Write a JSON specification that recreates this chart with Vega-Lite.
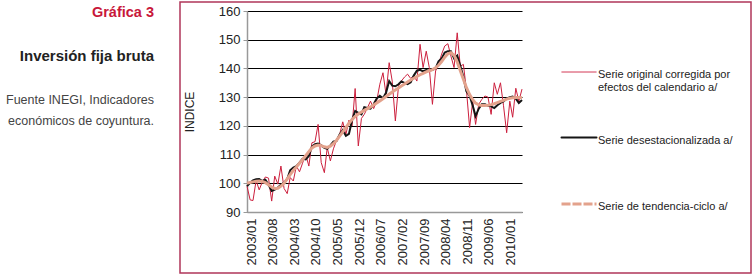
{
  "$schema": "https://vega.github.io/schema/vega-lite/v6.json",
  "background": "white",
  "padding": {"left": 0, "top": 1, "right": 0, "bottom": 0},
  "spacing": 25,
  "config": {"font": "Liberation Sans", "view": {"stroke": null}},
  "datasets": {
    "texto": [
      {"fila": 1, "texto": "Gráfica 3"},
      {"fila": 3, "texto": "Inversión fija bruta"},
      {"fila": 5, "texto": "Fuente INEGI, Indicadores"},
      {"fila": 6, "texto": "económicos de coyuntura."}
    ],
    "serie": [
      {"m":"2003-01","o":99,"d":99,"t":100},
      {"m":"2003-02","o":94.2,"d":100.2,"t":100.3},
      {"m":"2003-03","o":94,"d":101,"t":100.5},
      {"m":"2003-04","o":101,"d":101.4,"t":100.7},
      {"m":"2003-05","o":97.7,"d":101.5,"t":100.8},
      {"m":"2003-06","o":100.5,"d":100.8,"t":100.6},
      {"m":"2003-07","o":102.2,"d":101.2,"t":100.2},
      {"m":"2003-08","o":101.8,"d":99.5,"t":99.5},
      {"m":"2003-09","o":93.8,"d":97.3,"t":98.7},
      {"m":"2003-10","o":102.5,"d":97.8,"t":98.2},
      {"m":"2003-11","o":99.7,"d":98.5,"t":98.3},
      {"m":"2003-12","o":106,"d":99.5,"t":99},
      {"m":"2004-01","o":98.2,"d":100.2,"t":100},
      {"m":"2004-02","o":96.4,"d":101.5,"t":101.5},
      {"m":"2004-03","o":102,"d":104.5,"t":103},
      {"m":"2004-04","o":100.8,"d":105.5,"t":104.5},
      {"m":"2004-05","o":106,"d":106,"t":105.7},
      {"m":"2004-06","o":104,"d":107.2,"t":107},
      {"m":"2004-07","o":107,"d":108.5,"t":108.2},
      {"m":"2004-08","o":110.1,"d":108.3,"t":109.6},
      {"m":"2004-09","o":106,"d":109.5,"t":111},
      {"m":"2004-10","o":114.1,"d":112.8,"t":112.3},
      {"m":"2004-11","o":114.5,"d":113.6,"t":113},
      {"m":"2004-12","o":120.5,"d":113.8,"t":113.3},
      {"m":"2005-01","o":107.2,"d":113.2,"t":113.1},
      {"m":"2005-02","o":103.7,"d":112.3,"t":112.7},
      {"m":"2005-03","o":112.4,"d":112,"t":112.5},
      {"m":"2005-04","o":107.8,"d":113.2,"t":112.9},
      {"m":"2005-05","o":112,"d":114.5,"t":113.8},
      {"m":"2005-06","o":115,"d":114.8,"t":115},
      {"m":"2005-07","o":117,"d":117,"t":116.4},
      {"m":"2005-08","o":121.4,"d":118.5,"t":117.9},
      {"m":"2005-09","o":117,"d":116.5,"t":119.4},
      {"m":"2005-10","o":122,"d":117.2,"t":120.9},
      {"m":"2005-11","o":120,"d":122,"t":122.2},
      {"m":"2005-12","o":133,"d":125.2,"t":123.3},
      {"m":"2006-01","o":113,"d":124.5,"t":124.1},
      {"m":"2006-02","o":122.6,"d":124,"t":124.8},
      {"m":"2006-03","o":124,"d":126.5,"t":125.4},
      {"m":"2006-04","o":126.3,"d":126.2,"t":126},
      {"m":"2006-05","o":128.6,"d":126,"t":126.6},
      {"m":"2006-06","o":126,"d":127.5,"t":127.3},
      {"m":"2006-07","o":128.6,"d":129.5,"t":128},
      {"m":"2006-08","o":134.5,"d":130.5,"t":128.7},
      {"m":"2006-09","o":138.5,"d":129.6,"t":129.4},
      {"m":"2006-10","o":131,"d":131.5,"t":130.2},
      {"m":"2006-11","o":142,"d":135.6,"t":131},
      {"m":"2006-12","o":135.6,"d":134,"t":131.8},
      {"m":"2007-01","o":121.7,"d":133.8,"t":132.5},
      {"m":"2007-02","o":133.9,"d":134.5,"t":133.2},
      {"m":"2007-03","o":135.6,"d":135.5,"t":133.9},
      {"m":"2007-04","o":137,"d":135,"t":134.6},
      {"m":"2007-05","o":138,"d":134.5,"t":135.3},
      {"m":"2007-06","o":136.5,"d":135.2,"t":136},
      {"m":"2007-07","o":137.5,"d":137.5,"t":136.6},
      {"m":"2007-08","o":135.6,"d":139.2,"t":137.2},
      {"m":"2007-09","o":148.4,"d":139.5,"t":137.8},
      {"m":"2007-10","o":140.3,"d":139,"t":138.3},
      {"m":"2007-11","o":146,"d":139.4,"t":138.8},
      {"m":"2007-12","o":140.3,"d":139.2,"t":139.2},
      {"m":"2008-01","o":127.5,"d":139.5,"t":139.6},
      {"m":"2008-02","o":139.1,"d":140,"t":140.2},
      {"m":"2008-03","o":141.4,"d":142.5,"t":141.1},
      {"m":"2008-04","o":145,"d":143.5,"t":142.4},
      {"m":"2008-05","o":147.8,"d":145.5,"t":143.9},
      {"m":"2008-06","o":148.6,"d":146,"t":145.1},
      {"m":"2008-07","o":144.3,"d":146,"t":145.5},
      {"m":"2008-08","o":140.3,"d":143.5,"t":144.6},
      {"m":"2008-09","o":152.4,"d":144.5,"t":142.3},
      {"m":"2008-10","o":140.8,"d":141,"t":139.3},
      {"m":"2008-11","o":141.4,"d":137,"t":136.2},
      {"m":"2008-12","o":132.5,"d":132,"t":133.3},
      {"m":"2009-01","o":119.4,"d":130.5,"t":130.9},
      {"m":"2009-02","o":128.6,"d":127,"t":129.1},
      {"m":"2009-03","o":120.5,"d":123.4,"t":127.9},
      {"m":"2009-04","o":127.5,"d":126,"t":127.3},
      {"m":"2009-05","o":129.2,"d":127.5,"t":127.1},
      {"m":"2009-06","o":130.4,"d":127.5,"t":127.1},
      {"m":"2009-07","o":130,"d":127,"t":127.2},
      {"m":"2009-08","o":124,"d":126.8,"t":127.4},
      {"m":"2009-09","o":135,"d":126.2,"t":127.7},
      {"m":"2009-10","o":131,"d":127.2,"t":128.1},
      {"m":"2009-11","o":135,"d":128,"t":128.5},
      {"m":"2009-12","o":127,"d":128.5,"t":128.9},
      {"m":"2010-01","o":117.6,"d":129.5,"t":129.3},
      {"m":"2010-02","o":128.6,"d":130,"t":129.6},
      {"m":"2010-03","o":123,"d":130.2,"t":129.8},
      {"m":"2010-04","o":133.1,"d":129.5,"t":129.9},
      {"m":"2010-05","o":128.6,"d":128,"t":129.9},
      {"m":"2010-06","o":132.8,"d":129,"t":129.8}
    ]
  },
  "hconcat": [
    {
      "width": 154,
      "height": 130,
      "data": {"name": "texto"},
      "encoding": {
        "x": {"datum": 1, "type": "quantitative", "scale": {"domain": [0, 1]}, "axis": null},
        "y": {"field": "fila", "type": "ordinal", "scale": {"type": "point", "domain": [1, 2, 3, 4, 5, 6], "padding": 0.5}, "axis": null},
        "text": {"field": "texto"}
      },
      "layer": [
        {"transform": [{"filter": "datum.fila == 1"}], "mark": {"type": "text", "align": "right", "baseline": "middle", "fontSize": 14.5, "fontWeight": "bold", "color": "#c8173a"}},
        {"transform": [{"filter": "datum.fila == 3"}], "mark": {"type": "text", "align": "right", "baseline": "middle", "fontSize": 15, "fontWeight": "bold", "color": "#222222"}},
        {"transform": [{"filter": "datum.fila >= 5"}], "mark": {"type": "text", "align": "right", "baseline": "middle", "fontSize": 12.5, "color": "#444444"}}
      ]
    },
    {
      "width": 571,
      "height": 271,
      "view": {"stroke": "#b0365a", "strokeWidth": 1.5, "fill": "white"},
      "data": {"name": "serie"},
      "transform": [{"fold": ["o", "d", "t"], "as": ["serie", "valor"]}],
      "encoding": {
        "x": {
          "field": "m", "type": "temporal",
          "scale": {"type": "utc", "domain": [{"year": 2003, "month": 1, "date": 1, "utc": true}, {"year": 2010, "month": 6, "date": 1, "utc": true}], "range": [67, 342]},
          "axis": {
            "title": null, "grid": false, "ticks": false, "offset": -61,
            "values": [
              {"year": 2003, "month": 1, "date": 1, "utc": true},
              {"year": 2003, "month": 8, "date": 1, "utc": true},
              {"year": 2004, "month": 3, "date": 1, "utc": true},
              {"year": 2004, "month": 10, "date": 1, "utc": true},
              {"year": 2005, "month": 5, "date": 1, "utc": true},
              {"year": 2005, "month": 12, "date": 1, "utc": true},
              {"year": 2006, "month": 7, "date": 1, "utc": true},
              {"year": 2007, "month": 2, "date": 1, "utc": true},
              {"year": 2007, "month": 9, "date": 1, "utc": true},
              {"year": 2008, "month": 4, "date": 1, "utc": true},
              {"year": 2008, "month": 11, "date": 1, "utc": true},
              {"year": 2009, "month": 6, "date": 1, "utc": true},
              {"year": 2010, "month": 1, "date": 1, "utc": true}
            ],
            "format": "%Y/%m", "labelAngle": 270, "labelPadding": 6, "labelOffset": 4,
            "labelFontSize": 13, "labelColor": "#222222", "labelFlush": false, "labelOverlap": false,
            "domainColor": "#999999", "domainWidth": 1.5
          }
        },
        "y": {
          "field": "valor", "type": "quantitative",
          "scale": {"domain": [90, 160], "range": [210, 9], "zero": false, "nice": false},
          "axis": {
            "values": [90, 100, 110, 120, 130, 140, 150, 160], "offset": -67,
            "grid": true, "gridColor": "#000000", "gridWidth": 1, "gridOpacity": 1,
            "domainColor": "#999999", "domainWidth": 1.5, "tickColor": "#999999", "tickSize": 4,
            "labelPadding": 3, "labelFontSize": 13, "labelColor": "#222222",
            "title": "INDICE", "titleFontSize": 12, "titleFontWeight": "normal", "titleColor": "#222222", "titlePadding": 22
          }
        },
        "color": {
          "field": "serie", "type": "nominal",
          "scale": {"domain": ["o", "d", "t"], "range": ["#cc1f3d", "#151515", "#e3a28c"]},
          "legend": {
            "title": null, "orient": "none", "legendX": 560, "legendY": 52, "padding": 0,
            "symbolType": "stroke", "symbolSize": 1225, "labelFontSize": 11, "labelColor": "#222222",
            "labelLimit": 0, "labelOffset": 0, "rowPadding": 26,
            "labelExpr": "datum.value == 'o' ? ['Serie original corregida por', 'efectos del calendario a/'] : datum.value == 'd' ? ['Serie desestacionalizada a/', ''] : ['Serie de tendencia-ciclo a/', '']",
            "encode": {
              "symbols": {"update": {
                "strokeDash": {"signal": "datum.value == 't' ? [9, 2] : [1, 0]"},
                "strokeWidth": {"signal": "datum.value == 'o' ? 1.2 : datum.value == 'd' ? 4.5 : 4"},
                "strokeCap": {"signal": "datum.value == 'd' ? 'round' : 'butt'"}
              }},
              "labels": {"update": {"dy": {"value": 3}}}
            }
          }
        },
        "strokeWidth": {
          "field": "serie", "type": "nominal",
          "scale": {"domain": ["o", "d", "t"], "range": [1, 3, 4.5]},
          "legend": {
            "title": null, "orient": "none", "legendX": 560, "legendY": 52, "padding": 0,
            "symbolType": "stroke", "symbolSize": 1225, "labelFontSize": 11, "labelColor": "#222222",
            "labelLimit": 0, "labelOffset": 0, "rowPadding": 26,
            "labelExpr": "datum.value == 'o' ? ['Serie original corregida por', 'efectos del calendario a/'] : datum.value == 'd' ? ['Serie desestacionalizada a/', ''] : ['Serie de tendencia-ciclo a/', '']",
            "encode": {
              "symbols": {"update": {
                "strokeDash": {"signal": "datum.value == 't' ? [9, 2] : [1, 0]"},
                "strokeWidth": {"signal": "datum.value == 'o' ? 1.2 : datum.value == 'd' ? 4.5 : 4"},
                "strokeCap": {"signal": "datum.value == 'd' ? 'round' : 'butt'"}
              }},
              "labels": {"update": {"dy": {"value": 3}}}
            }
          }
        }
      },
      "layer": [
        {"transform": [{"filter": "datum.serie == 'o'"}], "mark": {"type": "line"}},
        {"transform": [{"filter": "datum.serie == 'd'"}], "mark": {"type": "line"}},
        {"transform": [{"filter": "datum.serie == 't'"}], "mark": {"type": "line"}}
      ]
    }
  ]
}
